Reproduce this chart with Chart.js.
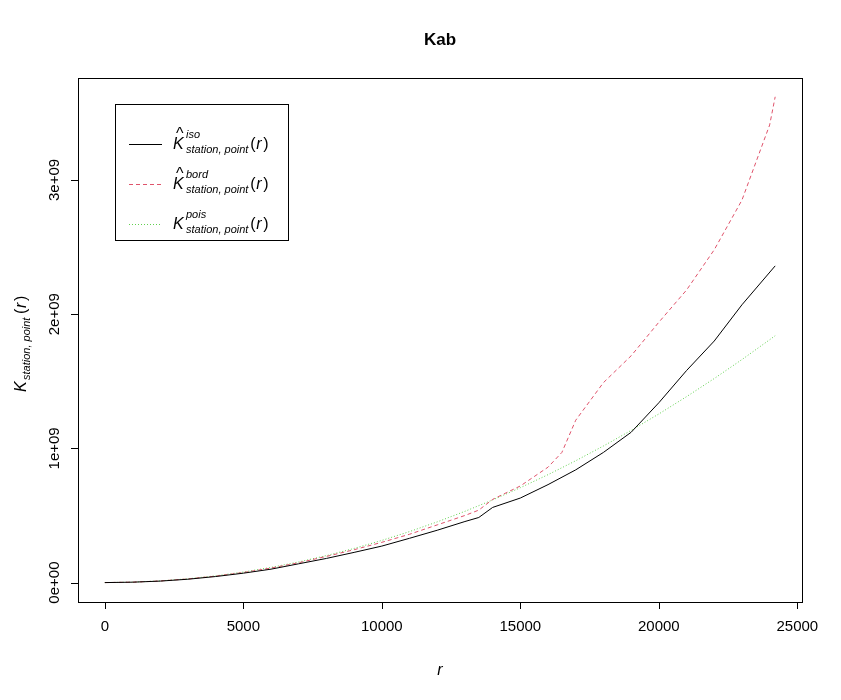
<!DOCTYPE html><html><head><script src="https://cdn.jsdelivr.net/npm/chart.js@4"></script>
<style>body{margin:0;background:#fff}#w{width:841px;height:700px}</style></head><body><div id="w"><canvas id="c"></canvas></div>
<script>
const rIso=[0,1000,2000,3000,4000,5000,6000,7000,8000,9000,10000,11000,12000,13000,13500,14000,15000,16000,17000,18000,19000,20000,21000,22000,23000,24200];
const kIso=[0,0.003,0.011,0.025,0.045,0.07,0.1,0.14,0.18,0.225,0.272,0.33,0.39,0.455,0.485,0.56,0.63,0.73,0.84,0.97,1.12,1.34,1.58,1.80,2.07,2.36];
const rBord=[0,1000,2000,3000,4000,5000,6000,7000,8000,9000,10000,11000,12000,13000,13500,14000,15000,16000,16500,17000,18000,19000,20000,21000,22000,23000,24000,24200];
const kBord=[0,0.003,0.012,0.027,0.048,0.075,0.108,0.148,0.195,0.245,0.3,0.36,0.43,0.5,0.54,0.62,0.72,0.86,0.97,1.21,1.49,1.69,1.94,2.18,2.48,2.85,3.41,3.62];
const rPois=[0,1000,2000,3000,4000,5000,6000,7000,8000,9000,10000,11000,12000,13000,14000,15000,16000,17000,18000,19000,20000,21000,22000,23000,24000,24200];
const kPois=[0,0.00314,0.01257,0.02827,0.05027,0.07854,0.1131,0.1539,0.2011,0.2545,0.3142,0.3801,0.4524,0.5309,0.6158,0.7069,0.8042,0.9079,1.0179,1.1341,1.2566,1.3854,1.5205,1.6619,1.8096,1.8398];
const xTicks=[0,5000,10000,15000,20000,25000];
const yTicks=[0,1,2,3];const yLabels=["0e+00","1e+09","2e+09","3e+09"];
const pts=(a,b)=>a.map((v,i)=>({x:v,y:b[i]}));
const F='"Liberation Sans", Arial, sans-serif';
function mathK(ctx,x,y,hat,sup){
  ctx.save();ctx.textBaseline='alphabetic';ctx.textAlign='left';
  ctx.font='italic 16px '+F;ctx.fillText('K',x,y);
  if(hat){ctx.font='16px '+F;ctx.fillText('^',x+3,y-10);}
  ctx.font='italic 11px '+F;ctx.fillText(sup,x+13,y-11);
  ctx.fillText('station, point',x+13,y+4);
  const w=ctx.measureText('station, point').width;
  ctx.font='16px '+F;ctx.fillText('(',x+15+w,y);
  ctx.font='italic 16px '+F;ctx.fillText('r',x+21+w,y);
  ctx.font='16px '+F;ctx.fillText(')',x+28+w,y);
  ctx.restore();
}
const deco={id:'deco',afterDraw(ch){
  const c=ch.ctx,a=ch.chartArea,xs=ch.scales.x,ys=ch.scales.y;
  c.save();c.strokeStyle='#000';c.fillStyle='#000';c.lineWidth=1;
  c.strokeRect(a.left+0.5,a.top+0.5,a.right-a.left,a.bottom-a.top);
  c.beginPath();const xa=xTicks.map(v=>xs.getPixelForValue(v));
  c.moveTo(xa[0],a.bottom+0.5);c.lineTo(xa[xa.length-1],a.bottom+0.5);
  xa.forEach(p=>{c.moveTo(Math.round(p)+0.5,a.bottom);c.lineTo(Math.round(p)+0.5,a.bottom+7);});
  const ya=yTicks.map(v=>ys.getPixelForValue(v));
  c.moveTo(a.left+0.5,ya[0]);c.lineTo(a.left+0.5,ya[ya.length-1]);
  ya.forEach(p=>{c.moveTo(a.left,Math.round(p)+0.5);c.lineTo(a.left-7,Math.round(p)+0.5);});
  c.stroke();
  c.font='15px '+F;c.textAlign='center';c.textBaseline='top';
  xTicks.forEach((v,i)=>c.fillText(String(v),xa[i],a.bottom+17));
  ya.forEach((p,i)=>{c.save();c.translate(a.left-16,p);c.rotate(-Math.PI/2);c.textBaseline='bottom';c.fillText(yLabels[i],0,0);c.restore();});
  c.font='bold 17px '+F;c.textBaseline='middle';c.fillText('Kab',(a.left+a.right)/2,40);
  c.font='italic 16px '+F;c.fillText('r',(a.left+a.right)/2,671);
  c.save();c.translate(22,340);c.rotate(-Math.PI/2);c.textAlign='left';
  c.font='italic 16px '+F;c.fillText('K',-52,0);c.font='italic 11px '+F;c.fillText('station, point',-40,5);
  c.font='16px '+F;c.fillText('(',26,0);c.font='italic 16px '+F;c.fillText('r',32,0);c.font='16px '+F;c.fillText(')',39,0);c.restore();
  // legend
  c.fillStyle='#fff';c.fillRect(115,104,173,136);c.strokeRect(115.5,104.5,173,136);
  const items=[['#000',[],true,'iso',144],['#DF536B',[4,3],true,'bord',184],['#61D04F',[1,2],false,'pois',224]];
  items.forEach(([col,d,h,s,yy])=>{c.strokeStyle=col;c.setLineDash(d);c.beginPath();c.moveTo(129,yy+0.5);c.lineTo(162,yy+0.5);c.stroke();
    c.setLineDash([]);c.fillStyle='#000';mathK(c,173,yy+5,h,s);});
  c.restore();
}};
new Chart(document.getElementById('c'),{type:'line',
data:{datasets:[
 {data:pts(rIso,kIso),borderColor:'#000',borderWidth:1,pointRadius:0,tension:0},
 {data:pts(rBord,kBord),borderColor:'#DF536B',borderWidth:1,borderDash:[4,3],pointRadius:0,tension:0},
 {data:pts(rPois,kPois),borderColor:'#61D04F',borderWidth:1,borderDash:[1,2],pointRadius:0,tension:0}]},
options:{responsive:true,maintainAspectRatio:false,animation:false,
 layout:{padding:{left:78,right:39,top:78,bottom:98}},
 plugins:{legend:{display:false},tooltip:{enabled:false}},
 scales:{x:{type:'linear',display:false,min:-968,max:25168},y:{display:false,min:-0.1447,max:3.76}}},
plugins:[deco]});
</script></body></html>
